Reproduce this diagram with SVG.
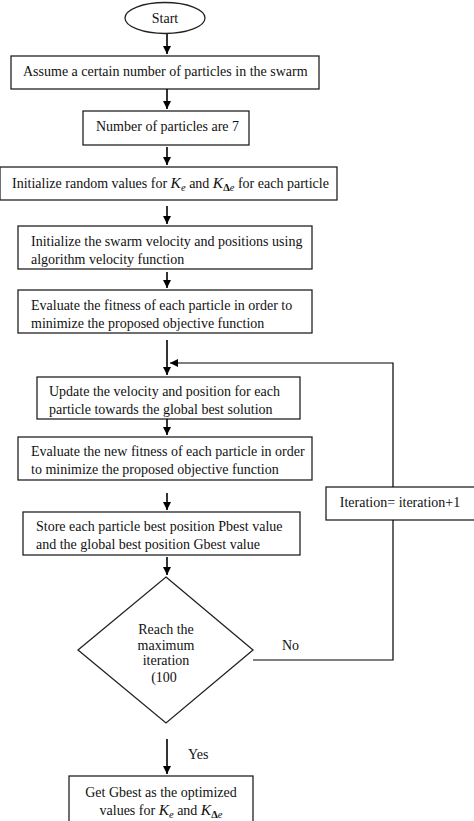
<svg xmlns="http://www.w3.org/2000/svg" width="474" height="821" viewBox="0 0 474 821">
<defs>
<marker id="ah" markerWidth="10" markerHeight="10" refX="8" refY="5" orient="auto" markerUnits="userSpaceOnUse">
<path d="M0,1 L8,5 L0,9 Z" fill="#000"/>
</marker>
<style>
.b{fill:#fff;stroke:#222;stroke-width:1.3}
.t{font-family:"Liberation Serif","Times New Roman",serif;font-size:14px;fill:#111}
.m{font-style:italic}
.c{stroke:#000;stroke-width:1.6;fill:none}
.e{stroke:#000;stroke-width:1.2;fill:none}
</style>
</defs>
<rect width="474" height="821" fill="#fff"/>
<g id="start">
<ellipse cx="165" cy="18" rx="40" ry="15.5" class="b" stroke-width="1.8"/>
<text x="165" y="23" class="t" text-anchor="middle">Start</text>
</g>
<g id="n1">
<rect x="11" y="56" width="308" height="33" class="b"/>
<text x="23" y="76" class="t">Assume a certain number of particles in the swarm</text>
</g>
<g id="n2">
<rect x="83" y="111" width="166" height="34" class="b"/>
<text x="96" y="131" class="t">Number of particles are 7</text>
</g>
<g id="n3">
<rect x="0" y="167" width="337" height="33" class="b"/>
<text x="12" y="188" class="t">Initialize random values for <tspan class="m" font-size="15.5">K</tspan><tspan class="m" font-size="10.5" dy="3">e</tspan><tspan dy="-3"> and </tspan><tspan class="m" font-size="15.5">K</tspan><tspan font-size="10.5" dy="3" font-weight="bold">Δ</tspan><tspan class="m" font-size="10.5">e</tspan><tspan dy="-3"> for each particle</tspan></text>
</g>
<g id="n4">
<rect x="18" y="226" width="294" height="43" class="b"/>
<text x="31" y="246" class="t">Initialize the swarm velocity and positions using</text>
<text x="31" y="264" class="t">algorithm velocity function</text>
</g>
<g id="n5">
<rect x="18" y="290" width="294" height="43" class="b"/>
<text x="31" y="310" class="t">Evaluate the fitness of each particle in order to</text>
<text x="31" y="328" class="t">minimize the proposed objective function</text>
</g>
<g id="n6">
<rect x="37" y="377" width="263" height="42" class="b"/>
<text x="49" y="396" class="t">Update the velocity and position for each</text>
<text x="49" y="414" class="t">particle towards the global best solution</text>
</g>
<g id="n7">
<rect x="18" y="437" width="294" height="43" class="b"/>
<text x="31" y="456" class="t">Evaluate the new fitness of each particle in order</text>
<text x="31" y="474" class="t">to minimize the proposed objective function</text>
</g>
<g id="n8">
<rect x="23" y="512" width="277" height="43" class="b"/>
<text x="36" y="531" class="t">Store each particle best position Pbest value</text>
<text x="36" y="549" class="t">and the global best position Gbest value</text>
</g>
<g id="iter">
<rect x="326" y="487" width="150" height="33" class="b"/>
<text x="400" y="507" class="t" text-anchor="middle">Iteration= iteration+1</text>
</g>
<g id="decision">
<polygon points="166,577 253,650 166,723 78,650" class="b"/>
<text x="166" y="634" class="t" text-anchor="middle">Reach the</text>
<text x="166" y="650" class="t" text-anchor="middle">maximum</text>
<text x="166" y="665" class="t" text-anchor="middle">iteration</text>
<text x="164" y="682" class="t" text-anchor="middle">(100</text>
</g>
<g id="end">
<rect x="69" y="776" width="184" height="50" class="b"/>
<text x="161" y="797" class="t" text-anchor="middle">Get Gbest as the optimized</text>
<text x="161" y="815" class="t" text-anchor="middle">values for <tspan class="m" font-size="15.5">K</tspan><tspan class="m" font-size="10.5" dy="3">e</tspan><tspan dy="-3"> and </tspan><tspan class="m" font-size="15.5">K</tspan><tspan font-size="10.5" dy="3" font-weight="bold">Δ</tspan><tspan class="m" font-size="10.5">e</tspan></text>
</g>
<g id="connectors">
<line x1="167" y1="34" x2="167" y2="54" class="c" marker-end="url(#ah)"/>
<line x1="167" y1="89" x2="167" y2="109" class="c" marker-end="url(#ah)"/>
<line x1="167" y1="147" x2="167" y2="165" class="c" marker-end="url(#ah)"/>
<line x1="167" y1="206" x2="167" y2="224" class="c" marker-end="url(#ah)"/>
<line x1="167" y1="272" x2="167" y2="288" class="c" marker-end="url(#ah)"/>
<line x1="167" y1="340" x2="167" y2="375" class="c" marker-end="url(#ah)"/>
<line x1="167" y1="419" x2="167" y2="435" class="c" marker-end="url(#ah)"/>
<line x1="167" y1="493" x2="167" y2="510" class="c" marker-end="url(#ah)"/>
<line x1="167" y1="557" x2="167" y2="575" class="c" marker-end="url(#ah)"/>
<line x1="167" y1="739" x2="167" y2="774" class="c" marker-end="url(#ah)"/>
<polyline points="253,660 393,660 393,520" class="e"/>
<polyline points="393,487 393,363 170,363" class="e" marker-end="url(#ah)"/>
<text x="282" y="650" class="t">No</text>
<text x="188" y="759" class="t">Yes</text>
</g>
</svg>
